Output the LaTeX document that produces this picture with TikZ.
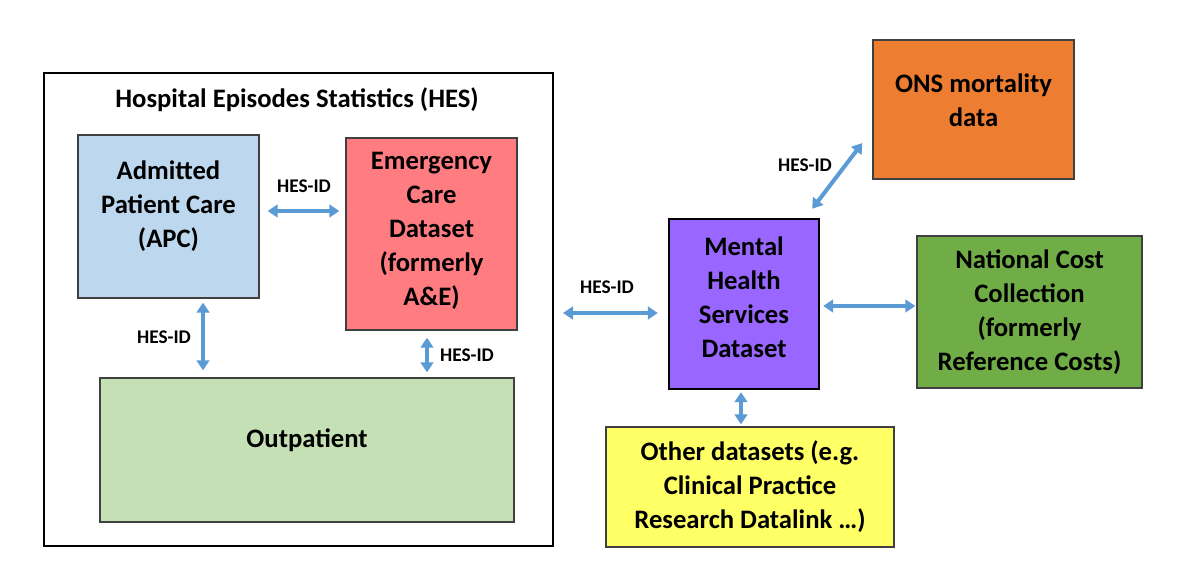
\documentclass[tikz,border=0pt]{standalone}
\usepackage{fontspec}
\setmainfont{Carlito}
\usetikzlibrary{arrows.meta,calc}
\definecolor{apcC}{HTML}{BDD7EE}
\definecolor{ecdC}{HTML}{FF7C80}
\definecolor{outC}{HTML}{C5E0B4}
\definecolor{onsC}{HTML}{ED7D31}
\definecolor{mhC}{HTML}{9966FF}
\definecolor{nccC}{HTML}{70AD47}
\definecolor{othC}{HTML}{FFFF66}
\definecolor{arrC}{HTML}{5B9BD5}
\definecolor{bordC}{HTML}{404040}
\tikzset{
  x=0.75pt, y=-0.75pt,
  box/.style={draw=bordC, line width=1pt, rectangle, inner sep=0pt},
  txt/.style={font=\fontsize{20}{25.5}\selectfont\bfseries, align=center, inner sep=0pt},
  lbl/.style={font=\fontsize{14.5}{17}\selectfont\bfseries, inner sep=0pt},
  arr/.style={draw=arrC, line width=3pt, {Triangle[length=7.5pt,width=9.5pt]}-{Triangle[length=7.5pt,width=9.5pt]}}
}
\begin{document}
\begin{tikzpicture}
\useasboundingbox[fill=white] (0,0) rectangle (1181,577);
% HES frame
\node[box, draw=black, line width=1.5pt, minimum width=509*0.75pt, minimum height=473*0.75pt] (hes) at (298.5,309.5) {};
\node[txt] (hest) at (297,100) {Hospital Episodes Statistics (HES)};
% boxes
\node[box, fill=apcC, minimum width=181*0.75pt, minimum height=163*0.75pt] (apc) at (168.5,216.5) {};
\node[txt] (apct) at (168.5,206) {Admitted\\Patient Care\\(APC)};
\node[box, fill=ecdC, minimum width=171*0.75pt, minimum height=192*0.75pt] (ecd) at (431.5,234) {};
\node[txt] (ecdt) at (431.5,231) {Emergency\\Care\\Dataset\\(formerly\\A\&E)};
\node[box, fill=outC, minimum width=414*0.75pt, minimum height=144*0.75pt] (out) at (307,450) {};
\node[txt] (outt) at (307,440) {Outpatient};
\node[box, fill=onsC, minimum width=201*0.75pt, minimum height=139*0.75pt] (ons) at (973.5,109.5) {};
\node[txt] (onst) at (973.5,100) {ONS mortality\\data};
\node[box, draw=black, line width=1.8pt, fill=mhC, minimum width=150*0.75pt, minimum height=170*0.75pt] (mh) at (744,304) {};
\node[txt] (mht) at (744,297) {Mental\\Health\\Services\\Dataset};
\node[box, fill=nccC, minimum width=225*0.75pt, minimum height=152*0.75pt] (ncc) at (1029.5,312) {};
\node[txt] (ncct) at (1029.5,312) {National Cost\\Collection\\(formerly\\Reference Costs)};
\node[box, fill=othC, minimum width=288*0.75pt, minimum height=120*0.75pt] (oth) at (750,487) {};
\node[txt] (otht) at (750,487) {Other datasets (e.g.\\Clinical Practice\\Research Datalink \ldots)};
% arrows
\draw[arr] ($(apc.east)+(8,-5.5)$) -- ($(ecd.west)+(-6,-23)$);
\draw[arr] ($(apc.south)+(34.5,4)$) -- ($(out.north)+(-104,-7)$);
\draw[arr] ($(ecd.south)+(-4.5,7)$) -- ($(out.north)+(120,-5)$);
\draw[arr] ($(hes.east)+(9,3.5)$) -- ($(mh.west)+(-10,9)$);
\draw[arr] ($(mh.north east)+(-8,-9)$) -- ($(ons.west)+(-10,33.5)$);
\draw[arr] ($(mh.east)+(3,2)$) -- ($(ncc.west)+(-1,-6)$);
\draw[arr] ($(mh.south)+(-3,2)$) -- ($(oth.north)+(-9,-2)$);
% labels
\node[lbl] (l1) at (304,186) {HES-ID};
\node[lbl] (l2) at (164,337) {HES-ID};
\node[lbl] (l3) at (467,355) {HES-ID};
\node[lbl] (l4) at (607,287) {HES-ID};
\node[lbl] (l5) at (805,165) {HES-ID};
\end{tikzpicture}
\end{document}
